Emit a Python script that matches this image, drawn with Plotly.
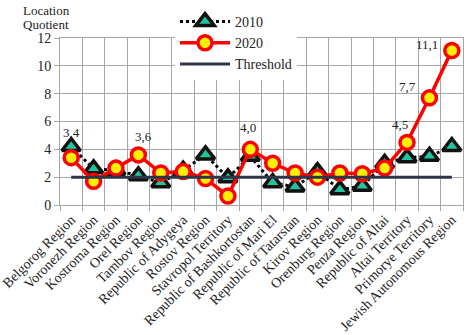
import plotly.graph_objects as go

regions = ["Belgorog Region", "Voronezh Region", "Kostroma Region", "Orel Region",
           "Tambov Region", "Republic of Adygeya", "Rostov Region", "Stavropol Territory",
           "Republic of Bashkortostan", "Republic of Mari El", "Republic of Tatarstan",
           "Kirov Region", "Orenburg Region", "Penza Region", "Republic of Altai",
           "Altai Territory", "Primorye Territory", "Jewish Autonomous Region"]
lq_2010 = [4.2, 2.6, 2.5, 2.1, 1.6, 2.5, 3.6, 1.95, 3.5, 1.6, 1.3, 2.4, 1.1, 1.35, 3.0, 3.4, 3.5, 4.2]
lq_2020 = [3.4, 1.7, 2.65, 3.6, 2.3, 2.4, 1.9, 0.65, 4.0, 3.0, 2.3, 2.0, 2.3, 2.25, 2.65, 4.5, 7.7, 11.1]
threshold = [2.0] * len(regions)

label_text = ["3,4", "3,6", "4,0", "4,5", "7,7", "11,1"]
label_x = [0, 3.25, 7.9, 14.7, 15.0, 15.9]
label_y = [5.2, 4.9, 5.6, 5.8, 8.5, 11.5]

FONT = "Liberation Serif, Times New Roman, serif"

fig = go.Figure()
fig.add_trace(go.Scatter(
    x=regions, y=lq_2010, name="2010", mode="lines+markers",
    line=dict(color="black", width=3, dash="dot"),
    marker=dict(symbol="triangle-up", size=16, color="#1fc4a0",
                line=dict(color="#111111", width=3.5)),
))
fig.add_trace(go.Scatter(
    x=regions, y=lq_2020, name="2020", mode="lines+markers",
    line=dict(color="#ff0000", width=3.5),
    marker=dict(symbol="circle", size=14, color="#ffef00",
                line=dict(color="#ff0000", width=3.5)),
))
fig.add_trace(go.Scatter(
    x=regions, y=threshold, name="Threshold", mode="lines",
    line=dict(color="#2c3646", width=3),
))

for t, xx, yy in zip(label_text, label_x, label_y):
    fig.add_annotation(x=xx, y=yy, text=t, showarrow=False,
                       font=dict(family=FONT, size=13, color="#222"))

# y-axis title, two lines placed above the axis
for txt, py in [("Location", 10), ("Quotient", 24)]:
    fig.add_annotation(xref="paper", yref="paper", x=(21 - 60) / 403,
                       y=(205 - py) / 167, xanchor="left", yanchor="middle",
                       text=txt, showarrow=False,
                       font=dict(family=FONT, size=13, color="#222"))

fig.update_layout(
    width=474, height=335,
    margin=dict(l=60, r=11, t=38, b=130, autoexpand=False),
    paper_bgcolor="white", plot_bgcolor="white",
    font=dict(family=FONT, size=13, color="#222"),
    showlegend=True,
    legend=dict(xref="container", yref="container", x=175 / 474, y=1 - 6 / 335,
                xanchor="left", yanchor="top",
                bgcolor="white", font=dict(family=FONT, size=14),
                itemwidth=50, tracegroupgap=0),
    xaxis=dict(type="category", range=[-0.5, 17.5], tickson="boundaries",
               showgrid=True, gridcolor="#a6a6a6", gridwidth=1,
               ticks="outside", ticklen=5, tickcolor="#a6a6a6",
               tickangle=-45, showline=True, linecolor="#a6a6a6",
               mirror=True, automargin=False, tickfont=dict(family=FONT, size=14)),
    yaxis=dict(range=[0, 12], dtick=2, showgrid=True, gridcolor="#a6a6a6",
               ticks="outside", ticklen=5, tickcolor="#a6a6a6",
               showline=True, linecolor="#a6a6a6", mirror=True,
               zeroline=False, automargin=False, tickfont=dict(family=FONT, size=14)),
)

fig.write_html("out.html")
